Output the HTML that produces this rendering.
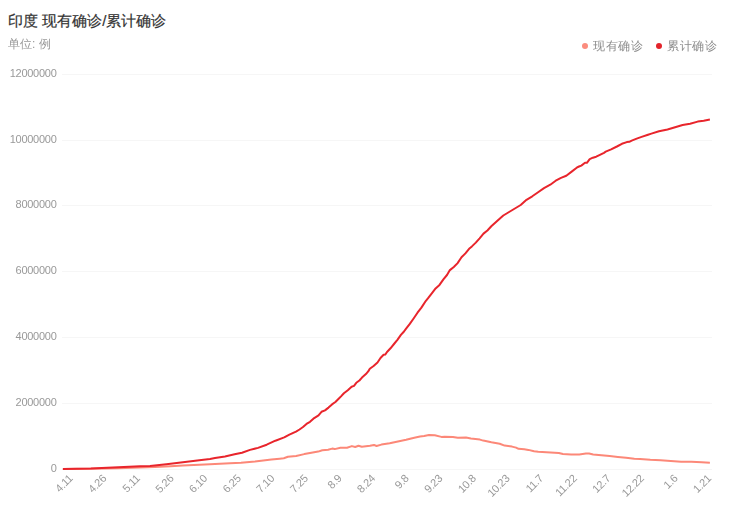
<!DOCTYPE html>
<html><head><meta charset="utf-8">
<style>
html,body{margin:0;padding:0;background:#fff;}
body{width:730px;height:516px;overflow:hidden;position:relative;font-family:"Liberation Sans",sans-serif;}
.t{position:absolute;left:8px;top:10.5px;font-size:15px;font-weight:500;color:#333;-webkit-text-stroke:0.2px #333;white-space:nowrap;line-height:20px;}
.s{position:absolute;left:8px;top:35px;font-size:12px;color:#999;white-space:nowrap;line-height:18px;}
.lg{position:absolute;top:36.5px;letter-spacing:0.6px;font-size:12px;color:#8c8c8c;white-space:nowrap;line-height:18px;}
.dot{position:absolute;width:6.4px;height:6.4px;border-radius:50%;}
svg{position:absolute;left:0;top:0;will-change:transform;}
.s,.lg{will-change:transform;}
.yl{font-size:11px;fill:#999;letter-spacing:-0.25px;}
.xl{font-size:11px;fill:#999;letter-spacing:-0.3px;}
</style></head><body>
<div class="t">印度 现有确诊/累计确诊</div>
<div class="s">单位: 例</div>
<div class="dot" style="left:581.8px;top:42.8px;background:#fb8c7e"></div>
<div class="lg" style="left:593px">现有确诊</div>
<div class="dot" style="left:655.8px;top:42.6px;background:#e3242b"></div>
<div class="lg" style="left:667px">累计确诊</div>
<svg width="730" height="516" viewBox="0 0 730 516" font-family="Liberation Sans, sans-serif">
<line x1="62" y1="74.5" x2="712" y2="74.5" stroke="#f6f6f6" stroke-width="1"/>
<line x1="62" y1="140.5" x2="712" y2="140.5" stroke="#f6f6f6" stroke-width="1"/>
<line x1="62" y1="205.5" x2="712" y2="205.5" stroke="#f6f6f6" stroke-width="1"/>
<line x1="62" y1="271.5" x2="712" y2="271.5" stroke="#f6f6f6" stroke-width="1"/>
<line x1="62" y1="337.5" x2="712" y2="337.5" stroke="#f6f6f6" stroke-width="1"/>
<line x1="62" y1="403.5" x2="712" y2="403.5" stroke="#f6f6f6" stroke-width="1"/>
<line x1="62" y1="469.5" x2="712" y2="469.5" stroke="#f6f6f6" stroke-width="1"/>
<text x="56.6" y="77.4" text-anchor="end" class="yl">12000000</text>
<text x="56.6" y="143.4" text-anchor="end" class="yl">10000000</text>
<text x="56.6" y="208.4" text-anchor="end" class="yl">8000000</text>
<text x="56.6" y="274.4" text-anchor="end" class="yl">6000000</text>
<text x="56.6" y="340.4" text-anchor="end" class="yl">4000000</text>
<text x="56.6" y="406.4" text-anchor="end" class="yl">2000000</text>
<text x="56.6" y="472.4" text-anchor="end" class="yl">0</text>
<text transform="translate(70.8,476.5) rotate(-45)" x="0" y="3.8" text-anchor="end" class="xl">4.11</text>
<text transform="translate(104.4,476.5) rotate(-45)" x="0" y="3.8" text-anchor="end" class="xl">4.26</text>
<text transform="translate(138.0,476.5) rotate(-45)" x="0" y="3.8" text-anchor="end" class="xl">5.11</text>
<text transform="translate(171.6,476.5) rotate(-45)" x="0" y="3.8" text-anchor="end" class="xl">5.26</text>
<text transform="translate(205.2,476.5) rotate(-45)" x="0" y="3.8" text-anchor="end" class="xl">6.10</text>
<text transform="translate(238.8,476.5) rotate(-45)" x="0" y="3.8" text-anchor="end" class="xl">6.25</text>
<text transform="translate(272.4,476.5) rotate(-45)" x="0" y="3.8" text-anchor="end" class="xl">7.10</text>
<text transform="translate(306.0,476.5) rotate(-45)" x="0" y="3.8" text-anchor="end" class="xl">7.25</text>
<text transform="translate(339.6,476.5) rotate(-45)" x="0" y="3.8" text-anchor="end" class="xl">8.9</text>
<text transform="translate(373.2,476.5) rotate(-45)" x="0" y="3.8" text-anchor="end" class="xl">8.24</text>
<text transform="translate(406.8,476.5) rotate(-45)" x="0" y="3.8" text-anchor="end" class="xl">9.8</text>
<text transform="translate(440.4,476.5) rotate(-45)" x="0" y="3.8" text-anchor="end" class="xl">9.23</text>
<text transform="translate(474.0,476.5) rotate(-45)" x="0" y="3.8" text-anchor="end" class="xl">10.8</text>
<text transform="translate(507.6,476.5) rotate(-45)" x="0" y="3.8" text-anchor="end" class="xl">10.23</text>
<text transform="translate(541.2,476.5) rotate(-45)" x="0" y="3.8" text-anchor="end" class="xl">11.7</text>
<text transform="translate(574.8,476.5) rotate(-45)" x="0" y="3.8" text-anchor="end" class="xl">11.22</text>
<text transform="translate(608.4,476.5) rotate(-45)" x="0" y="3.8" text-anchor="end" class="xl">12.7</text>
<text transform="translate(642.0,476.5) rotate(-45)" x="0" y="3.8" text-anchor="end" class="xl">12.22</text>
<text transform="translate(675.6,476.5) rotate(-45)" x="0" y="3.8" text-anchor="end" class="xl">1.6</text>
<text transform="translate(709.2,476.5) rotate(-45)" x="0" y="3.8" text-anchor="end" class="xl">1.21</text>
<polyline points="62.9,469.0 90.0,468.8 118.0,468.2 140.0,467.5 155.0,466.9 170.5,466.2 182.9,465.6 199.3,464.7 210.0,464.2 230.0,463.3 241.0,462.7 255.0,461.5 263.2,460.5 271.4,459.6 279.7,458.7 283.8,458.2 287.9,456.8 296.1,456.0 304.3,454.1 310.0,453.0 318.2,451.6 322.3,450.2 328.1,449.7 332.2,448.6 334.7,449.1 340.4,447.8 347.0,447.8 351.9,446.1 355.2,447.0 358.5,445.8 361.8,446.8 370.0,445.8 374.0,444.9 376.5,446.0 381.4,444.6 389.7,443.2 397.9,441.4 406.1,439.8 414.3,437.7 420.0,436.5 424.1,436.1 429.0,435.0 434.8,435.3 441.4,436.9 444.7,436.7 452.9,436.9 457.8,437.7 466.0,437.5 470.9,438.6 479.9,439.6 483.2,440.6 491.4,442.3 499.7,443.7 504.6,445.6 512.0,446.6 516.1,447.6 518.5,448.8 524.3,449.3 528.4,449.9 534.1,451.3 538.2,451.8 546.4,452.2 554.7,452.7 558.8,453.0 562.9,454.0 571.1,454.4 579.3,454.4 585.9,453.6 589.1,453.6 593.2,454.4 601.4,455.3 609.7,456.1 617.9,456.9 626.1,457.7 634.3,458.8 640.0,459.0 650.3,459.8 660.6,460.3 670.8,461.1 681.1,461.8 691.4,461.8 701.7,462.3 709.9,462.8" fill="none" stroke="#fc8878" stroke-width="2" stroke-linejoin="round" stroke-linecap="butt"/>
<polyline points="62.9,468.9 90.9,468.4 118.3,467.3 140.0,466.3 150.0,465.9 166.4,464.2 182.9,462.3 199.3,460.3 210.0,459.1 215.0,458.1 225.0,456.5 234.6,454.3 242.0,452.7 250.0,449.9 258.0,447.9 266.7,444.7 275.4,440.7 284.2,437.4 289.4,434.6 296.0,431.6 299.5,429.5 303.0,427.0 306.5,423.9 310.0,421.8 313.4,418.7 316.2,416.9 318.5,415.4 321.5,411.8 325.0,410.4 328.5,407.6 332.0,404.4 335.4,402.0 338.9,398.5 341.0,396.4 343.9,393.3 347.8,390.2 351.6,386.7 354.0,385.9 356.3,382.8 359.4,380.5 362.0,377.6 365.9,374.1 368.2,371.4 369.8,368.7 373.6,366.0 377.5,362.5 380.5,358.0 383.6,354.8 385.2,354.6 387.0,352.0 390.5,348.3 394.0,344.0 397.4,339.8 400.9,334.9 404.0,331.5 405.9,328.9 409.8,323.9 413.6,318.5 417.5,312.7 421.4,307.6 425.9,300.8 427.9,298.4 431.8,293.4 435.6,288.4 439.5,284.9 443.4,279.4 447.0,275.0 449.9,270.1 453.8,267.0 457.6,263.1 461.5,257.3 465.4,253.4 469.1,248.8 471.9,246.4 475.8,242.6 479.6,238.3 483.5,233.6 487.4,230.5 491.3,226.3 497.4,220.7 503.3,215.5 509.1,212.0 514.9,208.5 520.7,205.0 526.5,199.8 532.3,196.3 538.1,192.2 544.0,188.1 550.3,184.7 555.7,180.7 561.0,177.9 566.3,175.8 572.0,171.4 576.7,167.7 579.0,166.5 581.3,165.6 585.0,162.8 586.9,162.8 589.7,159.1 592.9,157.7 596.2,156.7 599.9,154.9 604.0,152.8 605.7,151.7 611.1,149.4 616.9,146.5 621.9,143.8 626.8,142.1 629.3,141.8 631.7,140.6 636.7,138.6 641.6,136.9 648.0,134.7 651.4,133.6 659.0,131.3 667.5,129.5 675.1,127.2 682.6,125.0 690.1,123.7 697.7,121.6 703.7,120.8 709.9,119.6" fill="none" stroke="#e8252c" stroke-width="2" stroke-linejoin="round" stroke-linecap="butt"/>
</svg>
</body></html>
